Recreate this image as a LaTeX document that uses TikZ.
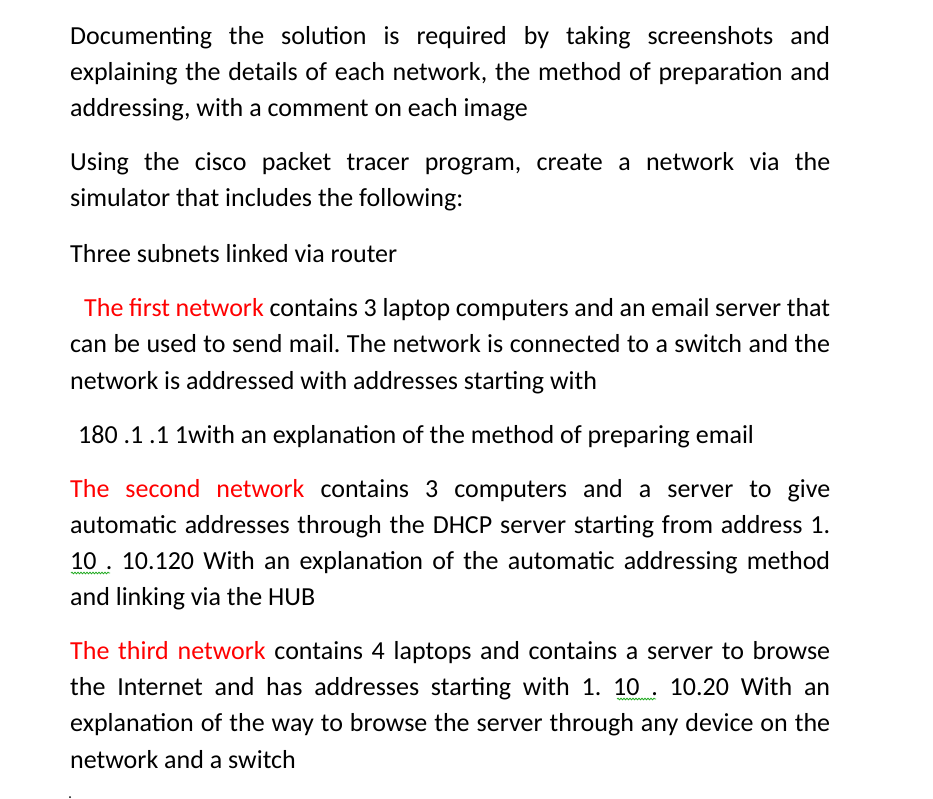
\documentclass[tikz,border=0pt]{standalone}
\usepackage{fontspec}
\setmainfont{Carlito}
\usetikzlibrary{decorations.pathmorphing}
\definecolor{wordred}{HTML}{FF0000}
\definecolor{squig}{HTML}{22AA22}
\frenchspacing
\begin{document}
\begin{tikzpicture}[x=1pt,y=-1pt,
  ln/.style={anchor=base west,inner sep=0pt,font=\fontsize{26}{30}\selectfont},
  wavy/.style={squig,line width=0.8pt,decorate,decoration={snake,amplitude=0.8pt,segment length=3pt}}]
\useasboundingbox[fill=white] (0,0) rectangle (933,799);
\newcommand\J[1]{\makebox[760pt][s]{#1}}
\node[ln] (l1) at (70,45) {\J{Documenting the solution is required by taking screenshots and}};
\node[ln] (l2) at (70,81) {\J{explaining the details of each network, the method of preparation and}};
\node[ln] (l3) at (70,117) {addressing, with a comment on each image};
\node[ln] (l4) at (70,171) {\J{Using the cisco packet tracer program, create a network via the}};
\node[ln] (l5) at (70,207) {simulator that includes the following:};
\node[ln] (l6) at (70,262) {Three subnets linked via router};
\node[ln] (l7) at (84,316) {\makebox[746pt][s]{\textcolor{wordred}{The first network} contains 3 laptop computers and an email server that}};
\node[ln] (l8) at (70,352) {\J{can be used to send mail. The network is connected to a switch and the}};
\node[ln] (l9) at (70,389) {network is addressed with addresses starting with};
\node[ln] (l10) at (78,443) {180 .1 .1 1with an explanation of the method of preparing email};
\node[ln] (l11) at (70,497) {\J{\textcolor{wordred}{The second network} contains 3 computers and a server to give}};
\node[ln] (l12) at (70,533) {\J{automatic addresses through the DHCP server starting from address 1.}};
\node[ln] (l13) at (70,569) {\J{10 . 10.120 With an explanation of the automatic addressing method}};
\node[ln] (l14) at (70,605) {and linking via the HUB};
\node[ln] (l15) at (70,659) {\J{\textcolor{wordred}{The third network} contains 4 laptops and contains a server to browse}};
\node[ln] (l16) at (70,695) {\J{the Internet and has addresses starting with 1. 10 . 10.20 With an}};
\node[ln] (l17) at (70,731) {\J{explanation of the way to browse the server through any device on the}};
\node[ln] (l18) at (70,768) {network and a switch};
\coordinate (w1a) at (71,573); \coordinate (w1b) at (110,573);
\draw[wavy] (w1a) -- (w1b);
\coordinate (w2a) at (617,699); \coordinate (w2b) at (656,699);
\draw[wavy] (w2a) -- (w2b);
\fill (70,797) circle (1pt);
\end{tikzpicture}
\end{document}
